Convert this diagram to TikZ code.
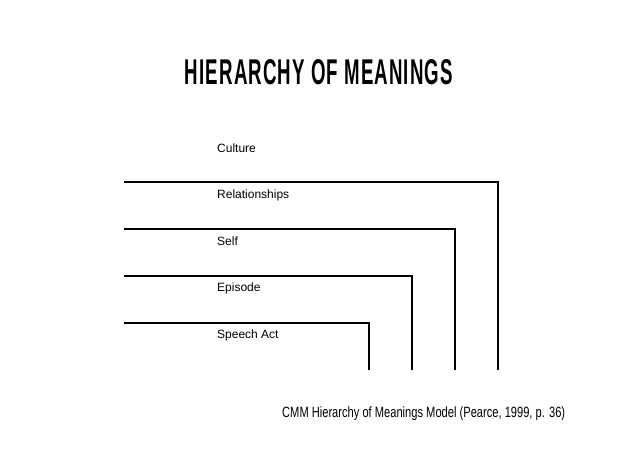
\documentclass[tikz,border=0pt]{standalone}
\usepackage{fontspec}
\setmainfont{Liberation Sans}
\usepackage{tikz}

\tikzset{level/.style={anchor=west,inner sep=0pt,font=\fontsize{12}{14}\selectfont},
  bracket/.style={draw=black,line width=1.6pt,line join=miter}}

\begin{document}
\begin{tikzpicture}[x=1pt,y=-1pt]
\useasboundingbox (0,0) rectangle (638,451);

\node [inner sep=0pt] (title) at (319,72)
  {\resizebox{268pt}{25pt}{\bfseries\addfontfeatures{LetterSpace=6}HIERARCHY OF MEANINGS}};

\node [level] (culture) at (217,148) {Culture};
\node [level] (rel) at (217,195) {Relationships};
\node [level] (self) at (217,241) {Self};
\node [level] (episode) at (217,288) {Episode};
\node [level] (speech) at (217,335) {Speech Act};

\draw [bracket] (124,182) -- (498,182) -- (498,370);
\draw [bracket] (124,229) -- (455,229) -- (455,370);
\draw [bracket] (124,276) -- (412,276) -- (412,370);
\draw [bracket] (124,323) -- (369,323) -- (369,370);

\node [anchor=base west,inner sep=0pt] (caption) at (282,417)
  {\resizebox{283pt}{10.8pt}{\fontsize{14}{16}\selectfont CMM Hierarchy of Meanings Model (Pearce, 1999, p. 36)}};
\end{tikzpicture}
\end{document}
